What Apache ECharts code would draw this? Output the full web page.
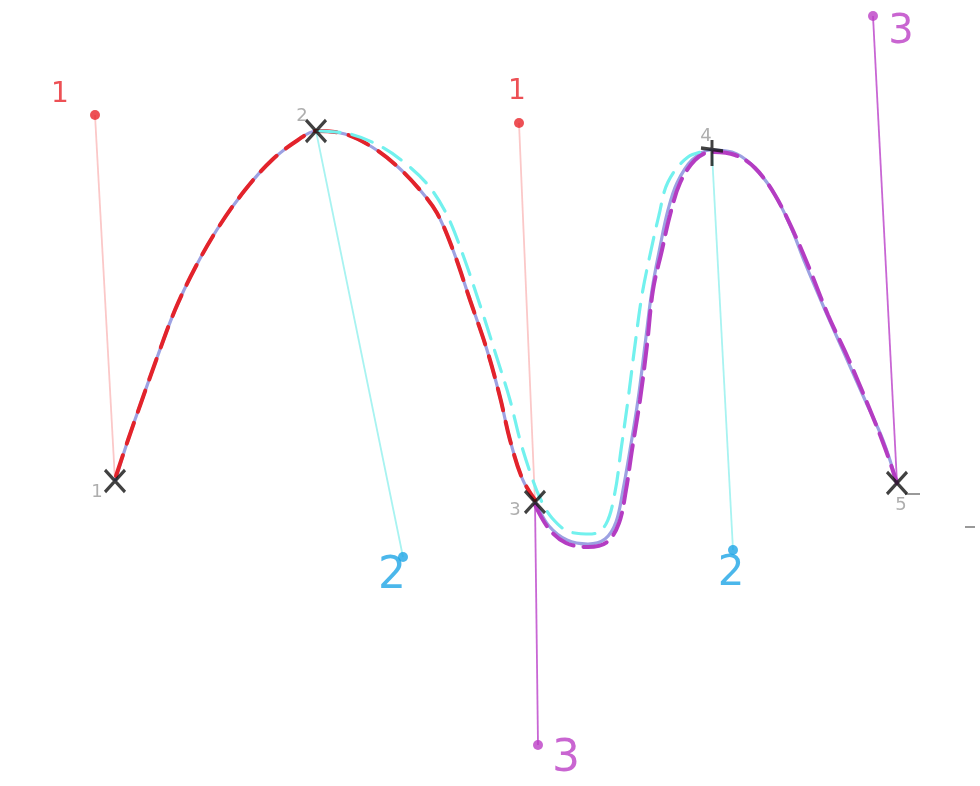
<!DOCTYPE html>
<html><head><meta charset="utf-8">
<script src="https://cdn.jsdelivr.net/npm/echarts@6/dist/echarts.min.js"></script>
<style>html,body{margin:0;padding:0;background:#fff}#c{width:980px;height:786px}</style>
</head><body><div id="c"></div>
<script>
// traced main curve (lavender)
const curvePts = [[115,481],[128,440],[142,400],[158,355],[175,310],[195,268],[218,228],[245,190],[272,160],[298,140],[316,131],[345,134],[372,147],[398,167],[420,190],[437,213],[453,250],[470,300],[487,350],[500,397],[510,440],[522,478],[535,502],[549,526],[567,540],[588,544],[605,539],[616,522],[623,490],[630,450],[638,400],[645,345],[652,290],[660,247],[668,210],[677,183],[692,160],[711,150],[732,152],[752,165],[772,190],[790,225],[805,263],[825,310],[845,355],[865,400],[883,440],[897,483]];
// red dashed segment (anchor 1 -> anchor 3)
const redPts = [[116,476],[128,440],[142,400],[158,355],[175,310],[195,268],[218,228],[245,190],[272,160],[298,140],[316,131],[345,134],[372,147],[398,167],[420,190],[437,213],[453,250],[470,300],[487,350],[500,397],[510,440],[522,478],[535,500]];
// cyan dashed segment (anchor 2 -> anchor 4)
const cyanPts = [[318,131],[350,134],[380,146],[405,163],[428,185],[447,215],[463,255],[480,305],[496,355],[510,400],[520,440],[530,472],[540,498],[552,518],[570,532],[592,534],[606,524],[615,492],[621,450],[628,400],[635,345],[642,295],[650,255],[659,215],[668,182],[688,157],[711,150]];
// magenta dashed segment (anchor 3 -> anchor 5)
const magentaPts = [[535,505],[549,529],[566,543],[588,547],[607,542],[619,523],[626,490],[632,450],[640,400],[647,345],[653,290],[662,250],[670,215],[680,183],[695,160],[711,152],[735,155],[755,168],[775,195],[795,235],[810,270],[828,315],[848,358],[868,405],[885,448],[897,483]];
// anchor points
const anchors = [[115,481],[316,131],[535,502],[712,153],[897,483]];
const anchorNames = ['1','2','3','4','5'];
const anchorLabelPos = [[97,492],[302,116],[515,510],[706,136],[901,505]];
// control points
const controls = [[95,115],[403,557],[519,123],[733,550],[538,745],[873,16]];
const controlNames = ['1','2','1','2','3','3'];
const controlAnchor = [0,1,2,3,2,4];
const controlLabelPos = [[60,95],[392,577],[517,92],[731,574],[566,760],[901,33]];
const controlColors = ['#e8242b','#1ea5e6','#e8242b','#1ea5e6','#bb3fc6','#bb3fc6'];
const controlLineColors = ['#fbc8c8','#a8f3f1','#fbc8c8','#a8f3f1','#c866d4','#c866d4'];
const labelSizes = [28,44,28,42,44,40];
// stray gray tick strokes
const grayStrokes = [[[905,494],[920,494]],[[965,527],[975,527]]];

const chart = echarts.init(document.getElementById('c'));
const series = [];
series.push({type:'line',data:curvePts,smooth:0.35,symbol:'none',lineStyle:{color:'#9da1e2',width:3.2},z:2});
series.push({type:'line',data:redPts,smooth:0.35,symbol:'none',lineStyle:{color:'#e3232b',width:4,type:[22,12],cap:'round'},z:3});
series.push({type:'line',data:cyanPts,smooth:0.35,symbol:'none',lineStyle:{color:'#72f1ee',width:3.2,type:[22,12],cap:'round'},z:3});
series.push({type:'line',data:magentaPts,smooth:0.35,symbol:'none',lineStyle:{color:'#b43cc2',width:4,type:[24,10],cap:'round'},z:3});
controls.forEach((c,i)=>{
  series.push({type:'line',data:[c,anchors[controlAnchor[i]]],symbol:'none',lineStyle:{color:controlLineColors[i],width:1.8},z:1});
});
grayStrokes.forEach(s=>{
  series.push({type:'line',data:s,symbol:'none',lineStyle:{color:'#999',width:2},z:1});
});
series.push({type:'scatter',data:controls.map((c,i)=>({value:c,itemStyle:{color:controlColors[i]}})),symbolSize:10,z:5});
series.push({type:'scatter',data:anchors.map((a,i)=>({value:a,
  symbol: i===3 ? 'path://M0,8L22,11M11,0L11,26' : 'path://M0,0L20,22M20,0L0,22',
  symbolSize: i===3 ? [22,26] : [20,22]})),
  itemStyle:{color:'none',borderColor:'#111',borderWidth:3.2},z:6});
series.push({type:'scatter',data:controlLabelPos.map((p,i)=>({value:p,label:{color:controlColors[i],fontSize:labelSizes[i]}})),
  symbolSize:0,label:{show:true,position:'inside',formatter:p=>controlNames[p.dataIndex],fontFamily:'DejaVu Sans',fontWeight:'normal'},z:7});
series.push({type:'scatter',data:anchorLabelPos,symbolSize:0,
  label:{show:true,position:'inside',formatter:p=>anchorNames[p.dataIndex],color:'#9a9a9a',fontSize:18,fontFamily:'DejaVu Sans'},z:7});

chart.setOption({
  animation:false,
  grid:{left:0,right:0,top:0,bottom:0},
  xAxis:{type:'value',min:0,max:980,show:false},
  yAxis:{type:'value',min:0,max:786,inverse:true,show:false},
  series
});
</script></body></html>
